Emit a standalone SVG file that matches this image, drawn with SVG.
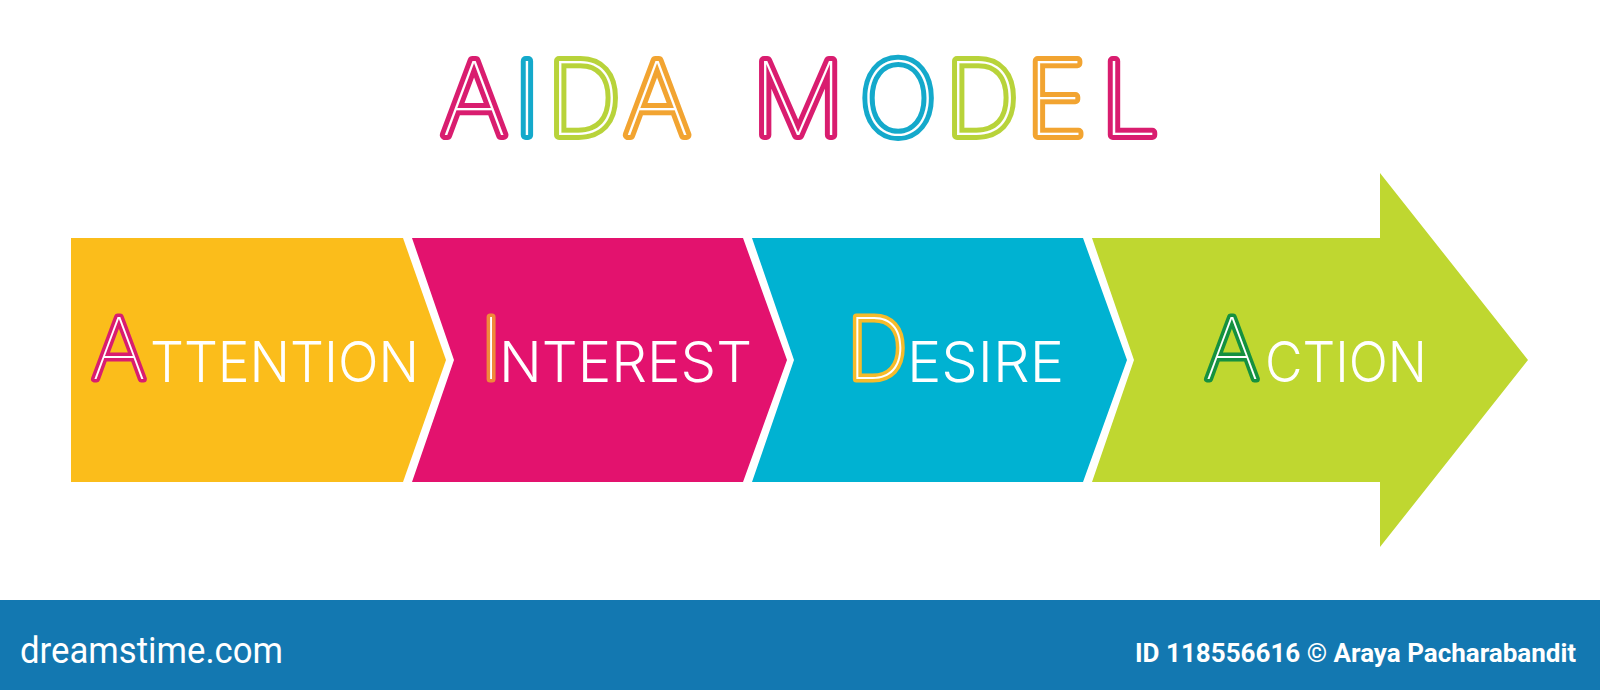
<svg xmlns="http://www.w3.org/2000/svg" width="1600" height="690" viewBox="0 0 1600 690">
  <style>
    .tube { paint-order: stroke; fill: #ffffff; stroke-linejoin: round; stroke-linecap: round; font-family: Inter, Roboto, Lato, "DejaVu Sans", sans-serif; font-weight: 100; text-anchor: middle; }
    .title { font-size: 102px; stroke-width: 10px; }
    .init { font-size: 85px; stroke-width: 7px; }
    .caps { fill: #ffffff; font-family: Inter, Roboto, Lato, "DejaVu Sans", sans-serif; font-weight: 300; font-size: 56px; }
    .pink { stroke: #d91d6f; }
    .cyan { stroke: #14a9cb; }
    .lime { stroke: #b8d33a; }
    .orange { stroke: #f2a431; }
    .foot { fill: #ffffff; font-family: Roboto, "Open Sans", "Liberation Sans", sans-serif; }
  </style>
  <rect x="0" y="0" width="1600" height="690" fill="#ffffff"/>

  <g id="title">
    <text class="tube title" y="135"><tspan class="pink" x="474">A</tspan><tspan class="cyan" x="527">I</tspan><tspan class="lime" x="584">D</tspan><tspan class="orange" x="657">A</tspan><tspan class="pink" x="798">M</tspan><tspan class="cyan" x="898">O</tspan><tspan class="lime" x="982">D</tspan><tspan class="orange" x="1056">E</tspan><tspan class="pink" x="1130">L</tspan></text>
  </g>

  <g id="node-attention">
    <path d="M71,238 L403,238 L446,360 L403,482 L71,482 Z" fill="#fbbd1b"/>
    <text class="tube init" x="119" y="379" stroke="#d91d6f">A</text>
    <text class="caps" x="150" y="382" textLength="269" lengthAdjust="spacingAndGlyphs">TTENTION</text>
  </g>

  <g id="node-interest">
    <path d="M412,238 L743,238 L787,360 L743,482 L412,482 L454,360 Z" fill="#e3126e"/>
    <text class="tube init" x="491" y="379" stroke="#f0893a">I</text>
    <text class="caps" x="499" y="382" textLength="253" lengthAdjust="spacingAndGlyphs">NTEREST</text>
  </g>

  <g id="node-desire">
    <path d="M752,238 L1083,238 L1127,360 L1083,482 L752,482 L794,360 Z" fill="#00b2d2"/>
    <text class="tube init" x="877" y="379" stroke="#f6bb2a">D</text>
    <text class="caps" x="907" y="382" textLength="157" lengthAdjust="spacingAndGlyphs">ESIRE</text>
  </g>

  <g id="node-action">
    <path d="M1092,238 L1380,238 L1380,173 L1528,360 L1380,547 L1380,482 L1092,482 L1134,360 Z" fill="#bfd730"/>
    <text class="tube init" x="1232" y="379" stroke="#15913f">A</text>
    <text class="caps" x="1265" y="382" textLength="162" lengthAdjust="spacingAndGlyphs">CTION</text>
  </g>

  <g id="connectors"></g>

  <g id="footer">
    <rect x="0" y="600" width="1600" height="90" fill="#1378b1"/>
    <text class="foot" x="20" y="663" font-size="36" textLength="263" lengthAdjust="spacingAndGlyphs">dreamstime.com</text>
    <text class="foot" x="1135" y="662" font-size="26" font-weight="700">ID 118556616 © Araya Pacharabandit</text>
  </g>
</svg>
